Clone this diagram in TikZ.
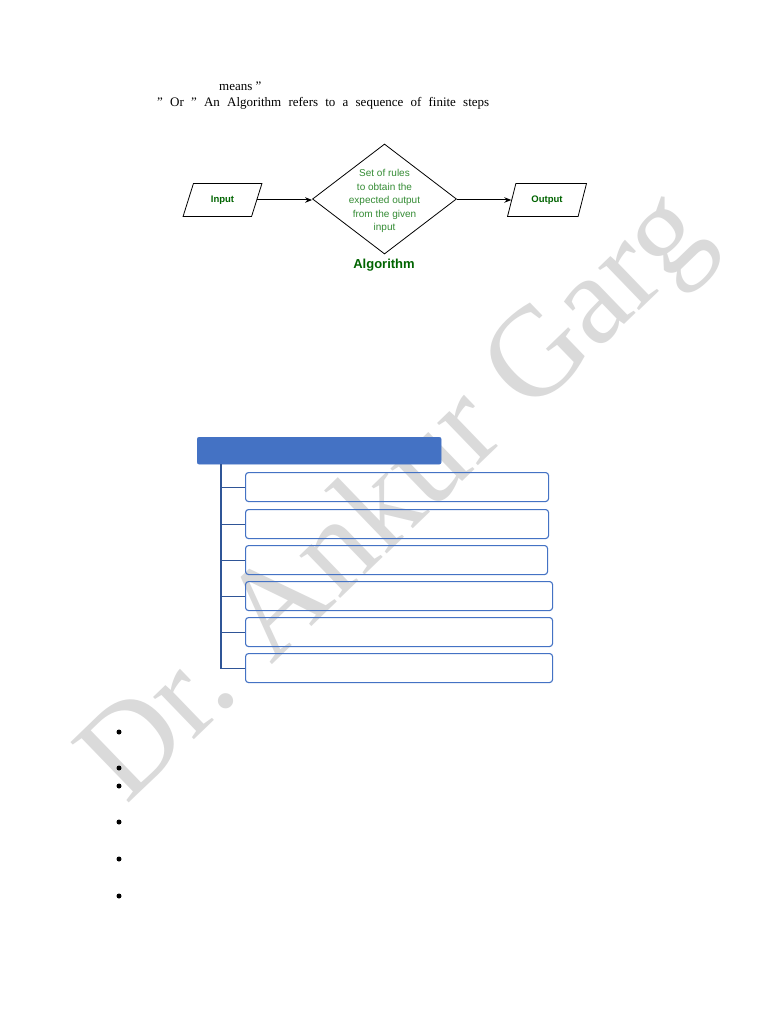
\documentclass[tikz,border=0pt]{standalone}
\usepackage{fontspec}
\setmainfont{Liberation Serif}
\newfontfamily\arialf{Liberation Sans}
\usetikzlibrary{shapes.geometric,arrows.meta}
\definecolor{wmgray}{RGB}{218,218,218}
\definecolor{dkgreen}{RGB}{0,100,0}
\definecolor{ltgreen}{RGB}{52,140,52}
\definecolor{hdblue}{RGB}{68,114,196}
\definecolor{connblue}{RGB}{47,85,151}
\tikzset{
  wmark/.style={text=wmgray, font=\fontsize{128}{128}\selectfont, inner sep=0pt},
  bodytext/.style={font=\fontsize{13}{15}\selectfont, inner sep=0pt},
  para/.style={trapezium, trapezium left angle=64, trapezium right angle=116, draw=black, line width=0.8pt, minimum width=79pt, minimum height=33pt, inner sep=0pt, trapezium stretches=true, text=dkgreen, font=\arialf\bfseries\fontsize{9.5}{11}\selectfont},
  decide/.style={diamond, draw=black, line width=0.8pt, minimum width=144pt, minimum height=110pt, inner sep=0pt},
  decidetext/.style={align=center, text=ltgreen, font=\arialf\fontsize{10}{13.5}\selectfont, inner sep=0pt},
  flowarrow/.style={draw=black, line width=1pt, -{Stealth[length=7pt,width=5.5pt]}},
  header/.style={fill=hdblue, draw=hdblue, rounded corners=2pt, anchor=north west, minimum width=244pt, minimum height=27pt, inner sep=0pt},
  listbox/.style={draw=hdblue, line width=1.1pt, rounded corners=3pt, anchor=north west, minimum height=29pt, inner sep=0pt},
  conn/.style={draw=connblue, line width=1.1pt},
  bulletdot/.style={circle, fill=black, inner sep=0pt, minimum size=5pt}
}
\begin{document}
\begin{tikzpicture}[x=1pt,y=-1pt]
\fill[white] (0,0) rectangle (768,1024);
\useasboundingbox (0,0) rectangle (768,1024);
% watermark
\node[wmark, rotate=44, anchor=base west] (wm) at (126,806) {Dr. Ankur Garg};
% top text
\node[bodytext, anchor=base west] (l1) at (219,90.7) {means ”};
\node[bodytext, anchor=base west] (l2) at (157,106.7) {\makebox[332pt][s]{” Or ” An Algorithm refers to a sequence of finite steps}};
% flowchart
\node[para] (inp) at (222.5,200) {Input};
\node[decide] (alg) at (384.5,199) {};
\node[decidetext] (algtxt) at (384.5,201) {Set of rules\\to obtain the\\expected output\\from the given\\input};
\node[text=dkgreen, font=\arialf\bfseries\fontsize{13}{15}\selectfont, inner sep=0pt] (alglbl) at (384,265) {Algorithm};
\node[para] (out) at (547,200) {Output};
\draw[flowarrow] (inp.east) -- (inp.east -| alg.west);
\draw[flowarrow] (alg.east |- out.west) -- (out.west);
% hierarchy
\node[header] (hd) at (197,437) {};
\node[listbox, minimum width=303pt] (b1) at (245,472) {};
\node[listbox, minimum width=303pt] (b2) at (245,509) {};
\node[listbox, minimum width=302pt] (b3) at (245,545) {};
\node[listbox, minimum width=307pt] (b4) at (245,581) {};
\node[listbox, minimum width=307pt] (b5) at (245,617) {};
\node[listbox, minimum width=307pt] (b6) at (245,653) {};
\coordinate (spine) at (221,464);
\draw[conn] (spine) |- (b6.west);
\foreach \b in {b1,b2,b3,b4,b5}{
  \draw[conn] (spine |- \b.west) -- (\b.west);
}
% bullets
\node[bulletdot] (u1) at (119,732) {};
\node[bulletdot] (u2) at (119,768) {};
\node[bulletdot] (u3) at (119,786) {};
\node[bulletdot] (u4) at (119,822) {};
\node[bulletdot] (u5) at (119,859) {};
\node[bulletdot] (u6) at (119,896) {};
\end{tikzpicture}
\end{document}
